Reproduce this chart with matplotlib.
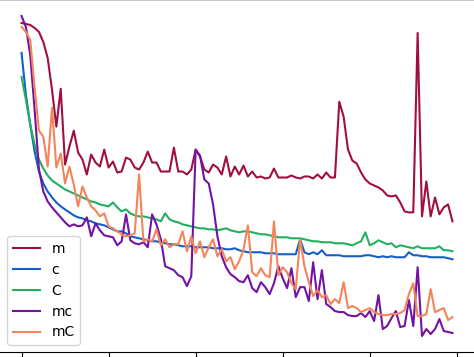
import matplotlib
matplotlib.use("Agg")
import matplotlib.pyplot as plt
import numpy as np

# values (arbitrary units, one point per step)
m_vals = [329, 328, 327, 324, 320, 310, 294, 262, 225, 263,
          187, 205, 221, 199, 192, 177, 197, 189, 185, 202,
          184, 190, 179, 180, 194, 192, 184, 182, 189, 200,
          189, 189, 180, 180, 180, 204, 180, 180, 177, 182,
          202, 195, 182, 179, 187, 184, 177, 195, 175, 185,
          177, 186, 175, 180, 174, 175, 173, 174, 183, 174,
          174, 174, 176, 174, 173, 175, 175, 173, 177, 173,
          179, 174, 174, 250, 235, 202, 191, 188, 179, 172,
          168, 166, 164, 161, 156, 155, 156, 149, 140, 139,
          139, 319, 135, 170, 135, 154, 137, 144, 147, 130]

c_vals = [299, 257, 227, 200, 180, 168, 160, 154, 149, 145,
          142, 139, 136, 134, 133, 131, 130, 128, 127, 126,
          124, 122, 120, 120, 118, 115, 114, 113, 112, 111,
          110, 110, 109, 108, 107, 107, 106, 105, 105, 105,
          104, 104, 104, 104, 103, 103, 103, 102, 102, 103,
          101, 100, 99, 99, 99, 99, 98, 98, 98, 97,
          97, 97, 97, 97, 112, 99, 97, 99, 97, 101,
          96, 96, 96, 96, 95, 95, 95, 95, 95, 96,
          96, 95, 94, 95, 94, 95, 94, 94, 94, 99,
          96, 96, 95, 95, 94, 94, 94, 94, 93, 92]

C_vals = [275, 252, 227, 207, 192, 183, 176, 171, 168, 165,
          162, 160, 158, 156, 154, 152, 150, 149, 147, 146,
          145, 149, 144, 140, 142, 138, 136, 135, 135, 134,
          133, 132, 130, 138, 132, 130, 129, 127, 126, 125,
          124, 123, 123, 122, 122, 121, 122, 123, 121, 120,
          119, 120, 120, 119, 118, 117, 117, 116, 115, 114,
          114, 114, 113, 113, 113, 112, 111, 110, 110, 109,
          109, 109, 108, 108, 108, 107, 106, 108, 110, 119,
          106, 108, 111, 109, 107, 108, 104, 106, 105, 104,
          103, 105, 103, 103, 103, 103, 105, 101, 101, 100]

mc_vals = [336, 325, 297, 242, 182, 160, 150, 144, 139, 134,
           129, 125, 127, 125, 126, 134, 115, 128, 121, 116,
           115, 114, 106, 110, 137, 111, 108, 107, 109, 104,
           137, 127, 112, 85, 83, 81, 76, 74, 65, 75,
           202, 196, 172, 168, 147, 115, 95, 84, 77, 74,
           70, 69, 76, 63, 59, 69, 64, 57, 68, 85,
           73, 63, 83, 54, 64, 64, 50, 89, 52, 81,
           47, 44, 40, 39, 39, 36, 35, 35, 38, 34,
           40, 30, 56, 22, 25, 33, 40, 24, 25, 51,
           25, 84, 15, 22, 17, 22, 32, 20, 19, 18]

mC_vals = [325, 320, 312, 264, 221, 215, 185, 244, 184, 198,
           168, 185, 167, 145, 165, 154, 145, 141, 135, 138,
           125, 123, 120, 117, 115, 116, 118, 177, 110, 112,
           110, 122, 106, 112, 104, 107, 107, 120, 100, 115,
           98, 110, 94, 104, 112, 95, 102, 90, 94, 82,
           90, 102, 126, 79, 75, 83, 76, 74, 130, 76,
           84, 79, 68, 62, 112, 85, 69, 55, 61, 54,
           56, 47, 52, 48, 69, 43, 45, 43, 39, 41,
           43, 39, 37, 36, 36, 37, 37, 38, 41, 57,
           68, 35, 35, 37, 62, 39, 41, 43, 31, 34]

SERIES = {"m": m_vals, "c": c_vals, "C": C_vals, "mc": mc_vals, "mC": mC_vals}
COLORS = {"m": "#a0103f", "c": "#1560c8", "C": "#22b060", "mc": "#7412a4", "mC": "#f4845a"}

steps = np.arange(len(m_vals))

fig = plt.figure(figsize=(4.74, 3.57), dpi=100)
ax = fig.add_axes([0.0, 5 / 357, 1.0, 352 / 357])

for name, vals in SERIES.items():
    ax.plot(steps, vals, color=COLORS[name], linewidth=1.5, label=name)

ax.set_xticks(np.arange(0, 101, 20))
ax.tick_params(axis="x", labelbottom=False, length=5, direction="out")
ax.tick_params(axis="y", left=False, labelleft=False)
ax.spines["left"].set_visible(False)
ax.spines["right"].set_visible(False)
ax.spines["top"].set_color("#c8c8c8")
ax.legend(loc="lower left")

fig.savefig("out.png", dpi=100)
